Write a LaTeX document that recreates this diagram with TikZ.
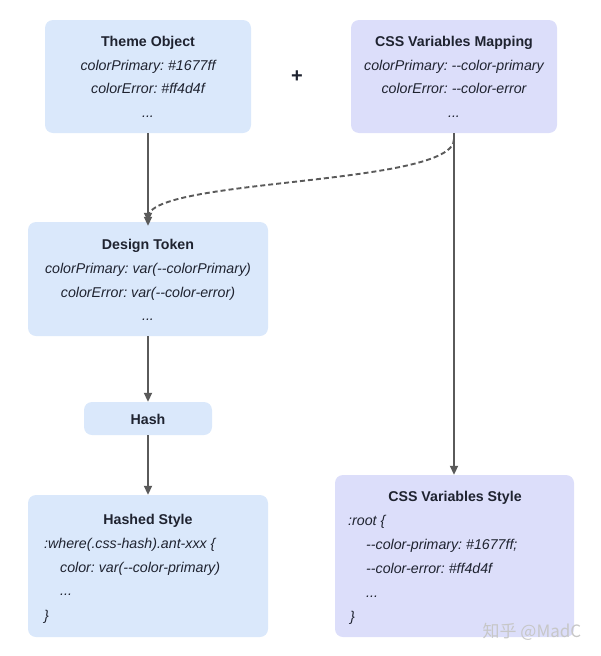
\documentclass[tikz,border=0pt]{standalone}
\usepackage{fontspec}
\setmainfont{Liberation Sans}
\newfontfamily\cjkfont{Noto Sans CJK SC}
\usetikzlibrary{arrows.meta}
\definecolor{bluebox}{HTML}{DAE8FB}
\definecolor{lavbox}{HTML}{DCDEFA}
\definecolor{txt}{HTML}{1F2330}
\definecolor{arrgray}{HTML}{5A5A5A}
\newcommand{\dd}{-\kern0pt-}
\frenchspacing
\tikzset{
  box/.style={rounded corners=8pt, inner sep=0pt, draw=none},
  bluefill/.style={box, fill=bluebox},
  lavfill/.style={box, fill=lavbox},
  ttl/.style={anchor=base, inner sep=0pt, text=txt, font=\fontsize{14.2}{16}\selectfont\bfseries},
  itm/.style={anchor=base, inner sep=0pt, text=txt, font=\fontsize{14.2}{16}\selectfont\itshape},
  itmw/.style={itm, anchor=base west},
  arr/.style={draw=arrgray, line width=1.9pt, -{Triangle[length=9pt,width=8pt]}},
  darr/.style={arr, dash pattern=on 5pt off 3pt},
}
\begin{document}
\begin{tikzpicture}[x=1pt,y=-1pt]
\useasboundingbox (0,0) rectangle (600,656);
% boxes
\node[bluefill, minimum width=206pt, minimum height=113pt] (theme) at (148,76.5) {};
\node[lavfill, minimum width=206pt, minimum height=113pt] (mapping) at (454,76.5) {};
\node[bluefill, minimum width=240pt, minimum height=114pt] (token) at (148,279) {};
\node[bluefill, minimum width=128pt, minimum height=33pt] (hash) at (148,418.5) {};
\node[bluefill, minimum width=240pt, minimum height=142pt] (hashed) at (148,566) {};
\node[lavfill, minimum width=239pt, minimum height=162pt] (cssstyle) at (454.5,556) {};
% plus
\node[inner sep=0pt, text=txt, font=\fontsize{20}{22}\selectfont\bfseries] (plus) at (297,77) {+};
% Theme Object
\node[ttl] (a0) at (148,46) {Theme Object};
\node[itm] (a1) at (148,70) {colorPrimary: \#1677ff};
\node[itm] (a2) at (148,93) {colorError: \#ff4d4f};
\node[itm] (a3) at (148,117) {...};
% Mapping
\node[ttl] (b0) at (454,46) {CSS Variables Mapping};
\node[itm] (b1) at (454,70) {colorPrimary: \dd color-primary};
\node[itm] (b2) at (454,93) {colorError: \dd color-error};
\node[itm] (b3) at (454,117) {...};
% Design Token
\node[ttl] (c0) at (148,249) {Design Token};
\node[itm] (c1) at (148,273) {colorPrimary: var(\dd colorPrimary)};
\node[itm] (c2) at (148,297) {colorError: var(\dd color-error)};
\node[itm] (c3) at (148,320) {...};
% Hash
\node[ttl] (h0) at (148,424) {Hash};
% Hashed Style
\node[ttl] (d0) at (148,524) {Hashed Style};
\node[itmw] (d1) at (44,548) {:where(.css-hash).ant-xxx \{};
\node[itmw] (d2) at (60,572) {color: var(\dd color-primary)};
\node[itmw] (d3) at (60,595) {...};
\node[itmw] (d4) at (44,620) {\}};
% CSS Variables Style
\node[ttl] (e0) at (455,501) {CSS Variables Style};
\node[itmw] (e1) at (348,525) {:root \{};
\node[itmw] (e2) at (366,549) {\dd color-primary: \#1677ff;};
\node[itmw] (e3) at (366,573) {\dd color-error: \#ff4d4f};
\node[itmw] (e4) at (366,597) {...};
\node[itmw] (e5) at (350,621) {\}};
% watermark
\node[inner sep=0pt, text=black!22, font=\cjkfont\fontsize{17}{19}\selectfont] (wm) at (532,632) {知乎 @MadC};
% arrows
\draw[arr] (theme.south) -- (token.north);
\draw[arr] (token.south) -- (hash.north);
\draw[arr] (hash.south) -- (hashed.north);
\draw[arr] (mapping.south) -- (mapping.south |- cssstyle.north);
\draw[darr] ([yshift=-6pt]mapping.south) .. controls +(0,47) and +(0,-48) .. ([yshift=-4pt]token.north);
\end{tikzpicture}
\end{document}
